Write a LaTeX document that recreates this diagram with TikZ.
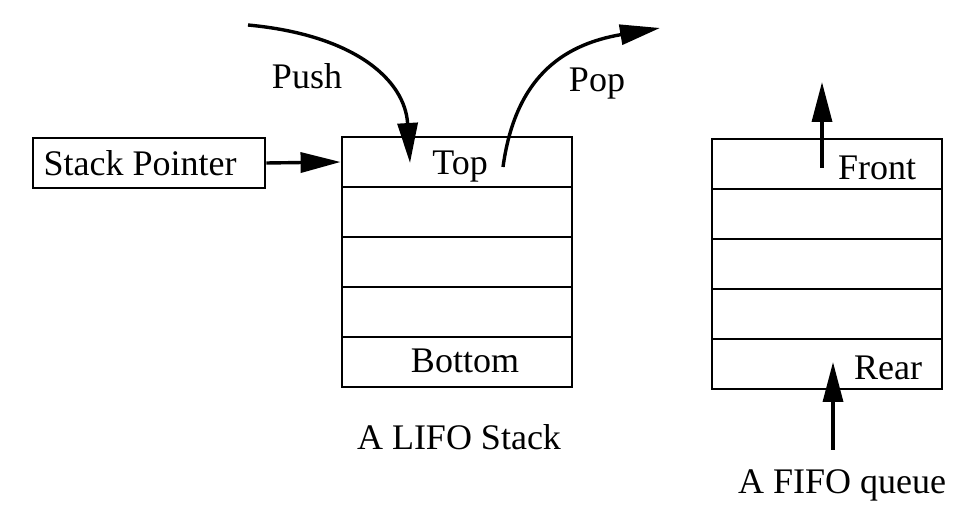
\documentclass[tikz,border=0pt]{standalone}
\usepackage{fontspec}
\setmainfont{Liberation Serif}
\usetikzlibrary{arrows.meta}
\begin{document}
\begin{tikzpicture}[x=0.5pt,y=-0.5pt,
  cell/.style={draw,line width=1.4pt,minimum width=115pt,minimum height=25pt,inner sep=0pt},
  lbl/.style={inner sep=0pt,font=\fontsize{18}{22}\selectfont},
  arr/.style={line width=1.7pt,-{Triangle[length=20pt,width=10pt]}}]
\useasboundingbox[fill=white] (0,0) rectangle (980,512);
% stack pointer
\node[draw,line width=1.4pt,minimum width=116pt,minimum height=25pt,inner sep=0pt] (sp) at (149,163) {};
\node[lbl] (sptext) at (140,163) {Stack Pointer};
% LIFO stack
\node[cell] (s1) at (457,162) {};
\node[cell] (s2) at (457,212) {};
\node[cell] (s3) at (457,262) {};
\node[cell] (s4) at (457,312) {};
\node[cell] (s5) at (457,362) {};
\node[lbl] (top) at (460,167) {Top};
\node[lbl] (bottom) at (465,361) {Bottom};
\node[lbl] (lifo) at (459,437) {A LIFO Stack};
% FIFO queue
\node[cell] (q1) at (827,164) {};
\node[cell] (q2) at (827,214) {};
\node[cell] (q3) at (827,264) {};
\node[cell] (q4) at (827,314) {};
\node[cell] (q5) at (827,364) {};
\node[lbl] (front) at (877,168) {Front};
\node[lbl] (rear) at (888,368) {Rear};
\node[lbl] (fifo) at (842,485) {A FIFO queue};
% labels
\node[lbl] (push) at (307,76) {Push};
\node[lbl] (pop) at (597,84) {Pop};
% coordinates
\coordinate (pushstart) at (248,25);
\coordinate (pushend) at (410,163);
\coordinate (popstart) at (503,167);
\coordinate (popend) at (660,28);
\coordinate (frontstart) at (822,168);
\coordinate (frontend) at (822,82);
\coordinate (rearstart) at (833,450);
\coordinate (rearend) at (833,362);
% arrows
\draw[arr] (sp.east) -- (s1.west);
\draw[arr] (pushstart) .. controls (355,35) and (405,80) .. (pushend);
\draw[arr] (popstart) .. controls (515,80) and (560,45) .. (popend);
\draw[arr] (frontstart) -- (frontend);
\draw[arr] (rearstart) -- (rearend);
\end{tikzpicture}
\end{document}
